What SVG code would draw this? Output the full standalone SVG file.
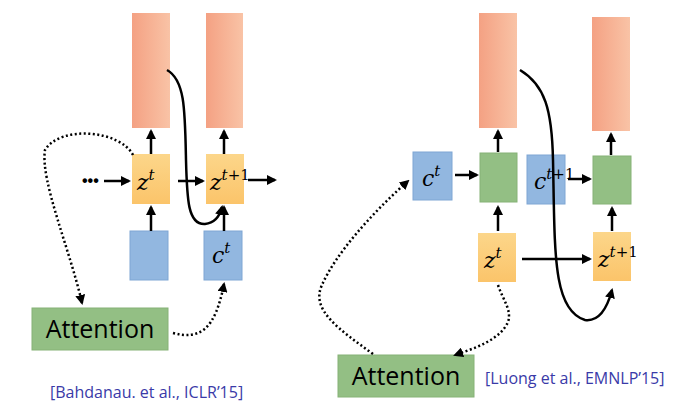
<svg xmlns="http://www.w3.org/2000/svg" width="686" height="414" viewBox="0 0 686 414">
<defs>
<linearGradient id="og" x1="0" x2="1"><stop offset="0" stop-color="#f4a183"/><stop offset="1" stop-color="#f9c3a6"/></linearGradient>
<linearGradient id="yg" x1="0" x2="0" y1="0" y2="1"><stop offset="0" stop-color="#fcd68a"/><stop offset="1" stop-color="#fbc46a"/></linearGradient>
<marker id="a" viewBox="0 0 10 10" refX="8" refY="5" markerWidth="4" markerHeight="4" orient="auto"><path d="M0,0L10,5L0,10z" fill="#000"/></marker>
</defs>
<style>
.o{fill:url(#og)}.y{fill:url(#yg)}.b{fill:#92b7e0;stroke:#7ea6d4}.g{fill:#93bf84;stroke:#86b277}
.l{stroke:#000;stroke-width:2.5;fill:none;marker-end:url(#a)}
.d{stroke:#000;stroke-width:2.5;fill:none;stroke-dasharray:2 2.5;marker-end:url(#a)}
.m{font-family:"DejaVu Serif",serif;font-style:italic;font-size:22px}
.s{font-family:"DejaVu Serif",serif;font-size:15px}
.t{font-family:"Open Sans","Liberation Sans",sans-serif;font-size:25px}
.c{font-family:"Open Sans","Liberation Sans",sans-serif;font-size:16px;fill:#3a3aa8}
</style>
<rect width="686" height="414" fill="#fff"/>
<g id="left-out1"><rect class="o" x="132" y="13" width="38" height="115"/></g>
<g id="left-out2"><rect class="o" x="206" y="13" width="37" height="115"/></g>
<g id="left-zt"><rect class="y" x="132" y="154" width="38" height="50"/><text class="m" x="137" y="190">z<tspan class="s" dy="-10" font-style="italic">t</tspan></text></g>
<g id="left-zt1"><rect class="y" x="206" y="154" width="38" height="50"/><text class="m" x="210" y="190">z<tspan class="s" dy="-10" font-style="italic">t</tspan><tspan class="s" font-style="normal">+1</tspan></text></g>
<g id="left-in"><rect class="b" x="130" y="231" width="38" height="49"/></g>
<g id="left-ct"><rect class="b" x="204" y="231" width="38" height="49"/><text class="m" x="212" y="263">c<tspan class="s" dy="-10" font-style="italic">t</tspan></text></g>
<g id="left-att"><rect class="g" x="32" y="308" width="136" height="42"/><text class="t" x="100" y="338" text-anchor="middle">Attention</text></g>
<text x="82" y="186" font-family="Liberation Sans,sans-serif" font-size="16" font-weight="bold">•••</text>
<g id="right-out1"><rect class="o" x="479" y="13" width="38" height="115"/></g>
<g id="right-out2"><rect class="o" x="592" y="17" width="38" height="114"/></g>
<g id="right-ct"><rect class="b" x="413" y="152" width="39" height="48"/><text class="m" x="422" y="186">c<tspan class="s" dy="-10" font-style="italic">t</tspan></text></g>
<g id="right-g1"><rect class="g" x="480" y="153" width="37" height="49"/></g>
<g id="right-ct1"><rect class="b" x="527" y="155" width="38" height="49"/><text class="m" x="534" y="189">c<tspan class="s" dy="-10" font-style="italic">t</tspan><tspan class="s" font-style="normal">+1</tspan></text></g>
<g id="right-g2"><rect class="g" x="593" y="156" width="38" height="48"/></g>
<g id="right-zt"><rect class="y" x="478" y="233" width="38" height="49"/><text class="m" x="484" y="268">z<tspan class="s" dy="-10" font-style="italic">t</tspan></text></g>
<g id="right-zt1"><rect class="y" x="593" y="232" width="38" height="49"/><text class="m" x="598" y="267">z<tspan class="s" dy="-10" font-style="italic">t</tspan><tspan class="s" font-style="normal">+1</tspan></text></g>
<g id="right-att"><rect class="g" x="338" y="355" width="136" height="42"/><text class="t" x="406" y="385" text-anchor="middle">Attention</text></g>
<g id="connectors">
<path class="l" d="M151,154V131"/><path class="l" d="M224,154V131"/>
<path class="l" d="M151,231V207"/><path class="l" d="M224,231V207"/>
<path class="l" d="M104,181H129"/><path class="l" d="M178,181H203"/><path class="l" d="M248,180H275"/>
<path class="l" d="M167,70C185,80 185,110 186,160C187,200 188,225 205,224C215,223 220,215 222,207"/>
<path class="d" d="M133,155C120,130 60,125 45,150C40,180 70,250 82,303"/>
<path class="d" d="M173,333C200,340 215,330 224,284"/>
<path class="l" d="M498,152V131"/><path class="l" d="M611,155V134"/>
<path class="l" d="M498,231V207"/><path class="l" d="M612,231V208"/>
<path class="l" d="M455,175H477"/><path class="l" d="M568,179H590"/><path class="l" d="M522,259H590"/>
<path class="l" d="M520,70C545,85 552,110 553,160C555,250 552,310 585,320C600,322 608,305 612,290"/>
<path class="d" d="M373,354C340,330 310,310 322,285C335,255 370,215 408,181"/>
<path class="d" d="M498,285C503,300 512,310 508,322C500,340 475,348 455,355"/>
</g>
<text class="c" x="50" y="398">[Bahdanau. et al., ICLR’15]</text>
<text class="c" x="485" y="384">[Luong et al., EMNLP’15]</text>
</svg>
